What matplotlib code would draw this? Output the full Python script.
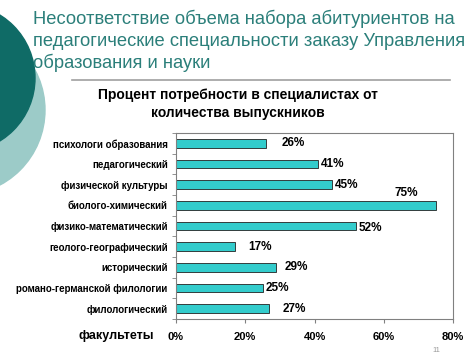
import matplotlib
matplotlib.use("Agg")
import matplotlib.pyplot as plt
from matplotlib.patches import Circle
from matplotlib.lines import Line2D
import numpy as np

plt.rcParams['font.family'] = ['Liberation Sans', 'DejaVu Sans']

categories = ["психологи образования", "педагогический", "физической культуры",
              "биолого-химический", "физико-математический", "геолого-географический",
              "исторический", "романо-германской филологии", "филологический"]
values = [26, 41, 45, 75, 52, 17, 29, 25, 27]
xticks = [0, 20, 40, 60, 80]
xticklabels = ["0%", "20%", "40%", "60%", "80%"]
title_lines = ["Несоответствие объема набора абитуриентов на",
               "педагогические специальности заказу Управления",
               "образования и науки"]
subtitle = "Процент потребности в специалистах от\nколичества выпускников"
axis_label = "факультеты"

# label offsets in pixels (dx, dy)
label_off = [(16, 0), (3, 0), (3, 0), (-41, 12), (3, -2), (13, 0), (8, 0), (3, 0), (13, 0)]

W, H = 474, 355
fig = plt.figure(figsize=(W / 100, H / 100), dpi=100)
fig.patch.set_facecolor("white")

# decorative circles
bg = fig.add_axes([0, 0, 1, 1])
bg.set_xlim(0, W)
bg.set_ylim(H, 0)
bg.axis("off")
bg.add_patch(Circle((-40, 110), 85, color="#9ccbc8", zorder=1))
bg.add_patch(Circle((-39, 78), 74, color="#0f6b66", zorder=2))
bg.add_line(Line2D([72, 450], [80, 80], color="#a0a0a0", lw=1.2))

tcol = "#2b7f7a"
for i, line in enumerate(title_lines):
    bg.text(33, 19 + i * 22, line, color=tcol, fontsize=13.2, va="center", ha="left")
bg.text(238, 104, subtitle, fontsize=10, fontweight="bold", ha="center", va="center",
        linespacing=1.3)
bg.text(116, 336, axis_label, fontsize=9, fontweight="bold", ha="center", va="center")
bg.text(436, 350, "11", fontsize=5.5, color="#999999", ha="center", va="center")

ax = fig.add_axes([176 / W, 1 - 319 / H, (453 - 176) / W, (319 - 133) / H])
y = np.arange(len(categories))
ax.barh(y, values, height=0.42, color="#33cccc", edgecolor="#222222", linewidth=0.6)
ax.set_xlim(0, 80)
ax.set_ylim(len(categories) - 0.5, -0.5)
ax.set_yticks(y)
ax.set_yticklabels(categories, fontsize=7, fontweight="bold")
ax.set_yticks(np.arange(-0.5, len(categories) + 0.5, 1), minor=True)
ax.tick_params(axis="y", which="major", length=0, pad=6)
ax.tick_params(axis="y", which="minor", length=3, color="#808080")
ax.set_xticks(xticks)
ax.set_xticklabels(xticklabels, fontsize=8, fontweight="bold")
ax.tick_params(axis="x", length=3, color="#808080", pad=6)
for s in ax.spines.values():
    s.set_color("#808080")
    s.set_linewidth(0.8)

for yi, v, (dx, dy) in zip(y, values, label_off):
    ax.annotate(f"{v}%", (v, yi), xytext=(dx * 0.72, dy * 0.72), textcoords="offset points",
                ha="left", va="center", fontsize=8.5, fontweight="bold")

fig.savefig("out.png", dpi=100)
